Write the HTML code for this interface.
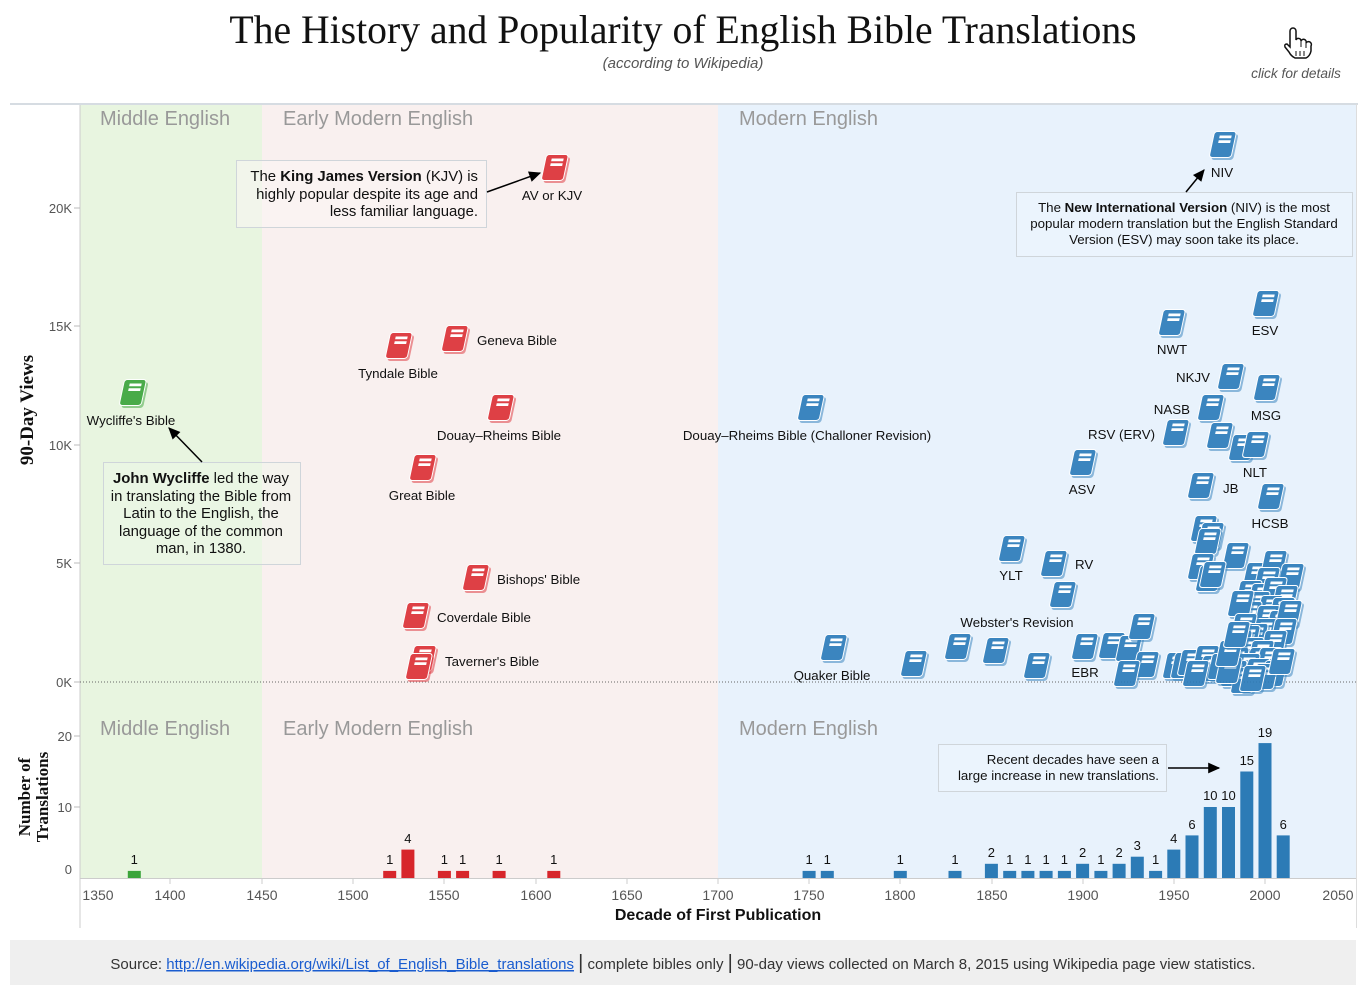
<!DOCTYPE html>
<html><head><meta charset="utf-8"><style>
html,body{margin:0;padding:0;background:#fff;}
svg{display:block;}
text{font-family:"Liberation Sans",Arial,sans-serif;}
.serif{font-family:"Liberation Serif","Times New Roman",serif;}
</style></head><body>
<svg width="1366" height="992" viewBox="0 0 1366 992" xmlns="http://www.w3.org/2000/svg">
<defs>
<marker id="ah" viewBox="0 0 10 10" refX="9" refY="5" markerUnits="userSpaceOnUse" markerWidth="13" markerHeight="12" orient="auto"><path d="M0,0.5 L10,5 L0,9.5 z" fill="#000"/></marker>
<g id="bk">
<rect x="-10" y="-12" width="22" height="26" rx="3" transform="skewX(-12)" opacity="0.55"/>
<rect x="-12.5" y="-14.5" width="22" height="26" rx="3" transform="skewX(-12)" stroke="#fff" stroke-width="1"/>
<rect x="-6.5" y="-10.5" width="12" height="2.8" fill="#fff" transform="skewX(-12)"/>
<rect x="-6.5" y="-5.8" width="12" height="2.8" fill="#fff" transform="skewX(-12)"/>
</g>
</defs>
<rect width="1366" height="992" fill="#fff"/>
<text class="serif" x="683" y="43" text-anchor="middle" font-size="39.7" fill="#111">The History and Popularity of English Bible Translations</text>
<text x="683" y="68" text-anchor="middle" font-size="15" font-style="italic" fill="#555">(according to Wikipedia)</text>
<path d="M1290,47 L1290,31 A3,3 0 0 1 1296,31 L1296,40 A2.6,2.6 0 0 1 1301,41 A2.6,2.6 0 0 1 1306,43 A2.6,2.6 0 0 1 1311,46 L1311,51 Q1310,56 1306,58 L1295,58 Q1291,56 1289,52 L1285,47 Q1284,44 1287,44 Z" fill="#fff" stroke="#111" stroke-width="1.5"/>
<path d="M1301,41 L1301,47 M1306,43 L1306,48 M1296,51 L1296,56 M1300,51 L1300,56 M1304,51 L1304,56" stroke="#111" stroke-width="1"/>
<text x="1296" y="78" text-anchor="middle" font-size="13.7" font-style="italic" fill="#555">click for details</text>

<line x1="10" y1="104" x2="1358" y2="104" stroke="#d6dce2" stroke-width="2"/>
<rect x="80" y="105" width="182" height="773" fill="#e8f5e0"/>
<rect x="262" y="105" width="456" height="773" fill="#f9f0ef"/>
<rect x="718" y="105" width="638" height="773" fill="#e8f2fc"/>
<line x1="80" y1="105" x2="80" y2="928" stroke="#ccc"/>
<line x1="1356.5" y1="104" x2="1356.5" y2="928" stroke="#ddd"/>

<g font-size="20" fill="#999">
<text x="100" y="125">Middle English</text>
<text x="283" y="125">Early Modern English</text>
<text x="739" y="125">Modern English</text>
<text x="100" y="735">Middle English</text>
<text x="283" y="735">Early Modern English</text>
<text x="739" y="735">Modern English</text>
</g>

<g font-size="13" fill="#555" text-anchor="end">
<text x="72" y="687">0K</text>
<text x="72" y="568">5K</text>
<text x="72" y="450">10K</text>
<text x="72" y="331">15K</text>
<text x="72" y="213">20K</text>
<text x="72" y="874">0</text>
<text x="72" y="812">10</text>
<text x="72" y="741">20</text>
</g>
<g stroke="#bbb">
<line x1="74" y1="682" x2="80" y2="682"/><line x1="74" y1="563" x2="80" y2="563"/><line x1="74" y1="445" x2="80" y2="445"/><line x1="74" y1="326" x2="80" y2="326"/><line x1="74" y1="208" x2="80" y2="208"/>
<line x1="74" y1="807" x2="80" y2="807"/><line x1="74" y1="736" x2="80" y2="736"/>
</g>
<line x1="80" y1="682" x2="1356" y2="682" stroke="#666" stroke-dasharray="1,2"/>

<text class="serif" transform="translate(33,410) rotate(-90)" text-anchor="middle" font-size="19" font-weight="bold" fill="#111">90-Day Views</text>
<text class="serif" transform="translate(30,797) rotate(-90)" text-anchor="middle" font-size="17" font-weight="bold" fill="#111">Number of</text>
<text class="serif" transform="translate(48,797) rotate(-90)" text-anchor="middle" font-size="17" font-weight="bold" fill="#111">Translations</text>

<!-- x axis -->
<line x1="80" y1="878.5" x2="1356" y2="878.5" stroke="#ccc"/>
<g stroke="#ccc">
<line x1="170" y1="878" x2="170" y2="884"/><line x1="262" y1="878" x2="262" y2="884"/><line x1="353" y1="878" x2="353" y2="884"/><line x1="444" y1="878" x2="444" y2="884"/><line x1="536" y1="878" x2="536" y2="884"/><line x1="627" y1="878" x2="627" y2="884"/><line x1="718" y1="878" x2="718" y2="884"/><line x1="809" y1="878" x2="809" y2="884"/><line x1="900" y1="878" x2="900" y2="884"/><line x1="992" y1="878" x2="992" y2="884"/><line x1="1083" y1="878" x2="1083" y2="884"/><line x1="1174" y1="878" x2="1174" y2="884"/><line x1="1265" y1="878" x2="1265" y2="884"/>
</g>
<g font-size="14" fill="#555" text-anchor="middle">
<text x="98" y="900">1350</text><text x="170" y="900">1400</text><text x="262" y="900">1450</text><text x="353" y="900">1500</text><text x="444" y="900">1550</text><text x="536" y="900">1600</text><text x="627" y="900">1650</text><text x="718" y="900">1700</text><text x="809" y="900">1750</text><text x="900" y="900">1800</text><text x="992" y="900">1850</text><text x="1083" y="900">1900</text><text x="1174" y="900">1950</text><text x="1265" y="900">2000</text><text x="1338" y="900">2050</text>
</g>
<text x="718" y="920" text-anchor="middle" font-size="16" font-weight="bold" fill="#111">Decade of First Publication</text>

<!-- bars -->
<g>
<rect x="127.8" y="870.9" width="13" height="7.1" fill="#3ba43b"/>
<g fill="#d7262b">
<rect x="383.2" y="870.9" width="13" height="7.1"/>
<rect x="401.4" y="849.6" width="13" height="28.4"/>
<rect x="437.9" y="870.9" width="13" height="7.1"/>
<rect x="456.1" y="870.9" width="13" height="7.1"/>
<rect x="492.6" y="870.9" width="13" height="7.1"/>
<rect x="547.3" y="870.9" width="13" height="7.1"/>
</g>
<g fill="#2c7bb6">
<rect x="802.6" y="870.9" width="13" height="7.1"/>
<rect x="820.8" y="870.9" width="13" height="7.1"/>
<rect x="893.8" y="870.9" width="13" height="7.1"/>
<rect x="948.5" y="870.9" width="13" height="7.1"/>
<rect x="984.9" y="863.8" width="13" height="14.2"/>
<rect x="1003.2" y="870.9" width="13" height="7.1"/>
<rect x="1021.4" y="870.9" width="13" height="7.1"/>
<rect x="1039.6" y="870.9" width="13" height="7.1"/>
<rect x="1057.9" y="870.9" width="13" height="7.1"/>
<rect x="1076.1" y="863.8" width="13" height="14.2"/>
<rect x="1094.4" y="870.9" width="13" height="7.1"/>
<rect x="1112.6" y="863.8" width="13" height="14.2"/>
<rect x="1130.8" y="856.7" width="13" height="21.3"/>
<rect x="1149.1" y="870.9" width="13" height="7.1"/>
<rect x="1167.3" y="849.6" width="13" height="28.4"/>
<rect x="1185.5" y="835.4" width="13" height="42.6"/>
<rect x="1203.8" y="807" width="13" height="71"/>
<rect x="1222" y="807" width="13" height="71"/>
<rect x="1240.3" y="771.5" width="13" height="106.5"/>
<rect x="1258.5" y="743.1" width="13" height="134.9"/>
<rect x="1276.7" y="835.4" width="13" height="42.6"/>
</g>
<g font-size="13" fill="#111" text-anchor="middle">
<text x="134.3" y="864">1</text>
<text x="389.7" y="864">1</text><text x="407.9" y="843">4</text><text x="444.4" y="864">1</text><text x="462.6" y="864">1</text><text x="499.1" y="864">1</text><text x="553.8" y="864">1</text>
<text x="809.1" y="864">1</text><text x="827.3" y="864">1</text><text x="900.3" y="864">1</text><text x="955" y="864">1</text><text x="991.4" y="857">2</text><text x="1009.7" y="864">1</text><text x="1027.9" y="864">1</text><text x="1046.1" y="864">1</text><text x="1064.4" y="864">1</text><text x="1082.6" y="857">2</text><text x="1100.9" y="864">1</text><text x="1119.1" y="857">2</text><text x="1137.3" y="850">3</text><text x="1155.6" y="864">1</text><text x="1173.8" y="843">4</text><text x="1192" y="829">6</text><text x="1210.3" y="800">10</text><text x="1228.5" y="800">10</text><text x="1246.8" y="765">15</text><text x="1265" y="737">19</text><text x="1283.2" y="829">6</text>
</g>
</g>

<!-- icons -->
<g opacity="0.92">
<use href="#bk" x="134" y="394" fill="#3ba43b"/>
<g fill="#dc3036">
<use href="#bk" x="556" y="169"/><use href="#bk" x="400" y="347"/><use href="#bk" x="456" y="340"/><use href="#bk" x="502" y="409"/><use href="#bk" x="424" y="469"/><use href="#bk" x="477" y="579"/><use href="#bk" x="417" y="617"/><use href="#bk" x="424" y="660"/><use href="#bk" x="420" y="668"/>
</g>
<g fill="#2c7cba">
<use href="#bk" x="1224" y="146"/><use href="#bk" x="812" y="409"/><use href="#bk" x="1267" y="305"/><use href="#bk" x="1173" y="324"/><use href="#bk" x="1232" y="378"/><use href="#bk" x="1268" y="389"/><use href="#bk" x="1212" y="409"/><use href="#bk" x="1177" y="434"/><use href="#bk" x="1221" y="437"/><use href="#bk" x="1243" y="449"/><use href="#bk" x="1257" y="446"/><use href="#bk" x="1084" y="464"/><use href="#bk" x="1202" y="487"/><use href="#bk" x="1272" y="498"/><use href="#bk" x="1013" y="550"/><use href="#bk" x="1055" y="565"/><use href="#bk" x="1064" y="596"/>
<use href="#bk" x="835" y="649"/><use href="#bk" x="915" y="665"/><use href="#bk" x="959" y="648"/><use href="#bk" x="997" y="652"/><use href="#bk" x="1038" y="667"/><use href="#bk" x="1086" y="648"/><use href="#bk" x="1113" y="647"/><use href="#bk" x="1130" y="650"/><use href="#bk" x="1143" y="628"/><use href="#bk" x="1147" y="666"/><use href="#bk" x="1128" y="675"/>
<use href="#bk" x="1205" y="530"/><use href="#bk" x="1212" y="537"/><use href="#bk" x="1209" y="543"/><use href="#bk" x="1237" y="557"/><use href="#bk" x="1202" y="568"/><use href="#bk" x="1210" y="580"/><use href="#bk" x="1214" y="576"/>
<use href="#bk" x="1257" y="577"/><use href="#bk" x="1275" y="565"/><use href="#bk" x="1292" y="578"/><use href="#bk" x="1268" y="582"/>
<use href="#bk" x="1250" y="595"/><use href="#bk" x="1262" y="598"/><use href="#bk" x="1275" y="592"/><use href="#bk" x="1286" y="600"/><use href="#bk" x="1258" y="606"/><use href="#bk" x="1271" y="610"/><use href="#bk" x="1283" y="612"/><use href="#bk" x="1250" y="616"/>
<use href="#bk" x="1242" y="605"/><use href="#bk" x="1268" y="620"/><use href="#bk" x="1280" y="625"/><use href="#bk" x="1290" y="615"/>
<use href="#bk" x="1265" y="633"/><use href="#bk" x="1285" y="633"/><use href="#bk" x="1245" y="628"/><use href="#bk" x="1256" y="638"/><use href="#bk" x="1275" y="645"/><use href="#bk" x="1248" y="640"/>
<use href="#bk" x="1240" y="645"/><use href="#bk" x="1252" y="652"/><use href="#bk" x="1262" y="655"/><use href="#bk" x="1260" y="662"/><use href="#bk" x="1270" y="662"/><use href="#bk" x="1237" y="662"/><use href="#bk" x="1248" y="668"/><use href="#bk" x="1258" y="673"/><use href="#bk" x="1235" y="675"/><use href="#bk" x="1275" y="675"/><use href="#bk" x="1266" y="678"/><use href="#bk" x="1245" y="682"/><use href="#bk" x="1254" y="680"/>
<use href="#bk" x="1283" y="663"/>
<use href="#bk" x="1177" y="667"/><use href="#bk" x="1185" y="667"/><use href="#bk" x="1192" y="664"/><use href="#bk" x="1207" y="660"/><use href="#bk" x="1213" y="670"/><use href="#bk" x="1222" y="668"/><use href="#bk" x="1230" y="672"/><use href="#bk" x="1197" y="675"/><use href="#bk" x="1230" y="655"/><use href="#bk" x="1238" y="636"/>
</g>
</g>

<!-- point labels -->
<g font-size="13.3" fill="#111">
<g text-anchor="middle">
<text x="131" y="425">Wycliffe's Bible</text>
<text x="552" y="200">AV or KJV</text>
<text x="398" y="378">Tyndale Bible</text>
<text x="499" y="440">Douay–Rheims Bible</text>
<text x="422" y="500">Great Bible</text>
<text x="1222" y="177">NIV</text>
<text x="807" y="440">Douay–Rheims Bible (Challoner Revision)</text>
<text x="1265" y="335">ESV</text>
<text x="1172" y="354">NWT</text>
<text x="1266" y="420">MSG</text>
<text x="1255" y="477">NLT</text>
<text x="1082" y="494">ASV</text>
<text x="1270" y="528">HCSB</text>
<text x="1011" y="580">YLT</text>
<text x="1017" y="627">Webster's Revision</text>
<text x="832" y="680">Quaker Bible</text>
<text x="1085" y="677">EBR</text>
</g>
<text x="477" y="345">Geneva Bible</text>
<text x="497" y="584">Bishops' Bible</text>
<text x="437" y="622">Coverdale Bible</text>
<text x="445" y="666">Taverner's Bible</text>
<text x="1223" y="493">JB</text>
<text x="1075" y="569">RV</text>
<g text-anchor="end">
<text x="1210" y="382">NKJV</text>
<text x="1190" y="414">NASB</text>
<text x="1155" y="439">RSV (ERV)</text>
</g>
</g>

<!-- annotations -->
<rect x="236.5" y="160.5" width="250" height="67" fill="#fbf6f5" fill-opacity="0.5" stroke="#cfd5da"/>
<g font-size="14.9" fill="#111" text-anchor="end">
<text x="478" y="181">The <tspan font-weight="bold">King James Version</tspan> (KJV) is</text>
<text x="478" y="199">highly popular despite its age and</text>
<text x="478" y="216">less familiar language.</text>
</g>
<line x1="487" y1="192" x2="540" y2="173" stroke="#000" stroke-width="1.5" marker-end="url(#ah)"/>

<rect x="103.5" y="462.5" width="197" height="102" fill="#eef7ea" fill-opacity="0.4" stroke="#cfd5da"/>
<g font-size="14.9" fill="#111" text-anchor="middle">
<text x="201" y="483"><tspan font-weight="bold">John Wycliffe</tspan> led the way</text>
<text x="201" y="501">in translating the Bible from</text>
<text x="201" y="518">Latin to the English, the</text>
<text x="201" y="536">language of the common</text>
<text x="201" y="553">man, in 1380.</text>
</g>
<line x1="202" y1="462" x2="169" y2="428" stroke="#000" stroke-width="1.5" marker-end="url(#ah)"/>

<rect x="1016.5" y="192.5" width="336" height="64" fill="#eef5fd" fill-opacity="0.5" stroke="#cfd5da"/>
<g font-size="13.3" fill="#111" text-anchor="middle">
<text x="1184" y="212">The <tspan font-weight="bold">New International Version</tspan> (NIV) is the most</text>
<text x="1184" y="228">popular modern translation but the English Standard</text>
<text x="1184" y="244">Version (ESV) may soon take its place.</text>
</g>
<line x1="1186" y1="192" x2="1204" y2="170" stroke="#000" stroke-width="1.5" marker-end="url(#ah)"/>

<rect x="938.5" y="744.5" width="228" height="47" fill="#eef5fd" fill-opacity="0.5" stroke="#cfd5da"/>
<g font-size="13.3" fill="#111" text-anchor="end">
<text x="1159" y="764">Recent decades have seen a</text>
<text x="1159" y="780">large increase in new translations.</text>
</g>
<line x1="1168" y1="768" x2="1219" y2="768" stroke="#000" stroke-width="1.5" marker-end="url(#ah)"/>

<!-- footer -->
<rect x="10" y="940" width="1346" height="45" fill="#efefef"/>
<text x="683" y="969" text-anchor="middle" font-size="15" fill="#333">Source: <tspan fill="#1a5ccf" text-decoration="underline">http://en.wikipedia.org/wiki/List_of_English_Bible_translations</tspan> <tspan font-size="20" fill="#333">|</tspan> complete bibles only <tspan font-size="20" fill="#333">|</tspan> 90-day views collected on March 8, 2015 using Wikipedia page view statistics.</text>
</svg>
</body></html>
